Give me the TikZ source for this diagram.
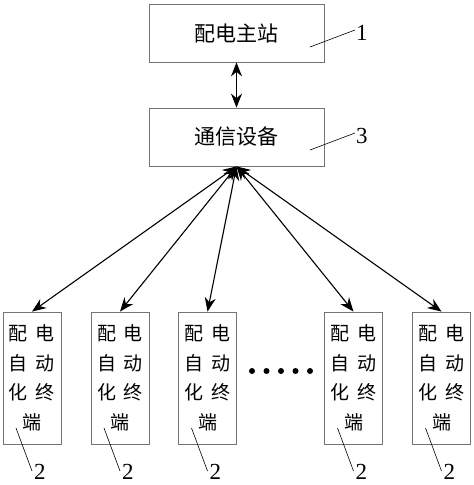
\documentclass[tikz,border=0pt]{standalone}
\usepackage{fontspec}
\setmainfont{Liberation Serif}
\newfontfamily\cjk{Noto Sans CJK SC}
\usetikzlibrary{arrows.meta}
\begin{document}
\begin{tikzpicture}[x=1pt,y=-1pt,
  box/.style={draw=black!55,line width=0.8pt,inner sep=0pt},
  topbox/.style={box,minimum width=175pt,minimum height=58pt,font=\cjk\fontsize{21}{21}\selectfont},
  termbox/.style={box,minimum width=58pt,minimum height=132pt,align=center,font=\cjk\fontsize{19}{29.5}\selectfont},
  link/.style={line width=1.1pt,{Stealth[length=14pt,width=11pt]}-{Stealth[length=14pt,width=11pt]}},
  leader/.style={line width=0.6pt},
  num/.style={font=\fontsize{23}{23}\selectfont,inner sep=0pt},
  dot/.style={circle,fill=black,inner sep=0pt,minimum size=6pt}]
\useasboundingbox (0,0) rectangle (474,485);
\node[topbox] (master) at (236.5,33) {配电主站};
\node[topbox] (comm) at (236.5,137) {通信设备};
\draw[link] (master.south) -- (comm.north);
\def\term{配\hspace{8pt}电\\自\hspace{8pt}动\\化\hspace{8pt}终\\端}
\node[termbox] (t1) at (32,378) {\term};
\node[termbox] (t2) at (120,378) {\term};
\node[termbox] (t3) at (207.5,378) {\term};
\node[termbox] (t4) at (353.5,378) {\term};
\node[termbox] (t5) at (441.5,378) {\term};
\foreach \t in {t1,t2,t3,t4,t5}{\draw[link] (comm.south) -- (\t.north);}
\foreach \i/\x in {1/252,2/266.5,3/281,4/295.5,5/310}{\node[dot] (d\i) at (\x,371) {};}
% labels
\coordinate (l1a) at (310,47); \coordinate (l1b) at (355,30);
\node[num,anchor=base west] (n1) at (356,40) {1};
\draw[leader] (l1a) -- (l1b);
\coordinate (l3a) at (310,150); \coordinate (l3b) at (355,133);
\node[num,anchor=base west] (n3) at (356,143) {3};
\draw[leader] (l3a) -- (l3b);
\foreach \i/\x in {1/32,2/120,3/207.5,4/353.5,5/441.5}{
  \coordinate (a\i) at (\x-16,428);
  \coordinate (b\i) at (\x,471);
  \node[num,anchor=base west] (m\i) at (\x+2,479.5) {2};
  \draw[leader] (a\i) -- (b\i);
}
\end{tikzpicture}
\end{document}
